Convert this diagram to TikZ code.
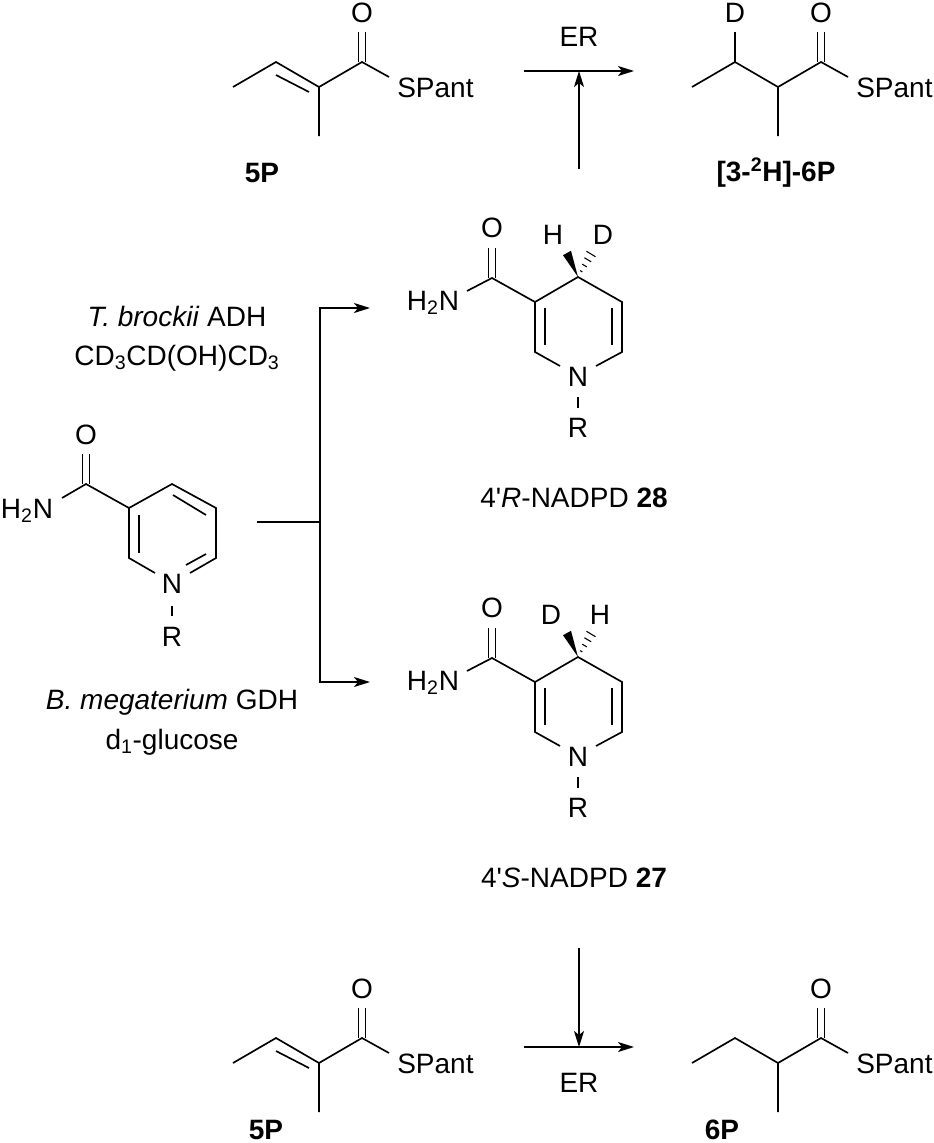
\documentclass[tikz,border=0pt]{standalone}
\usepackage{fontspec}
\setmainfont{Liberation Sans}[Ligatures=TeXOff]
\usetikzlibrary{arrows.meta,calc}

\begin{document}
\begin{tikzpicture}[
    x=0.75pt, y=-0.75pt,
    every node/.style={font=\fontsize{21}{25}\selectfont, inner sep=0pt},
    bond/.style={line width=1.25pt, line join=miter},
    arrow/.style={line width=1.25pt, -{Stealth[length=12pt,width=7.5pt,inset=3pt]}},
    line/.style={line width=1.25pt},
    thioester/.pic={
        \coordinate (co) at (0,0);
        \coordinate (ca) at (-43,25);
        \coordinate (me) at (-43,74);
        \coordinate (s) at (27,15);
        \node (o) at (0,-49) {O};
        \node[anchor=west] (spant) at (35,26) {SPant};
        \draw[bond] (me) -- (ca) -- (co) -- (s);
        \draw[bond] ([xshift=-2.6pt]co) -- ([xshift=-2.6pt]0,-30);
        \draw[bond] ([xshift=2.6pt]co) -- ([xshift=2.6pt]0,-30);
    },
    enoyl/.pic={
        \coordinate (ca) at (-43,25);
        \coordinate (cb) at (-86,0);
        \coordinate (cc) at (-129,25);
        \draw[bond] (cc) -- (cb) -- (ca);
        \draw[bond] (-86,13) -- (-53,30);
    },
    alkyl/.pic={
        \coordinate (ca) at (-43,25);
        \coordinate (cb) at (-86,0);
        \coordinate (cc) at (-129,25);
        \draw[bond] (cc) -- (cb) -- (ca);
    }
]
\useasboundingbox (0,0) rectangle (933,1143);

% TOP REACTION
\pic (a) at (362,62) {thioester};
\pic (a) at (362,62) {enoyl};
\pic (b) at (821,62) {thioester};
\pic (b) at (821,62) {alkyl};
\node (dtop) at (735,13) {D};
\draw[bond] (bcb) -- (735,32);
\node (lab5p) at (262,173) {\textbf{5P}};
\node (lab6d) at (776,173) {\textbf{[3-\textsuperscript{2}H]-6P}};
\node (ertop) at (579,37) {ER};
\coordinate (t1) at (524,71);
\coordinate (t2) at (634,71);
\coordinate (t3) at (579,169);
\coordinate (t4) at (579,71);
\draw[arrow] (t1) -- (t2);
\draw[arrow] (t3) -- (t4);

% REDUCED COFACTORS
\foreach \ring/\dy/\lft/\rgt/\lx/\rx in {r/0/H/D/553/603, s/380/D/H/551/600}{
\begin{scope}[shift={(0,\dy)}, name prefix=\ring]
    \coordinate (c7) at (492,278);
    \coordinate (c3) at (535,302);
    \coordinate (c4) at (578,277);
    \coordinate (c5) at (622,302);
    \coordinate (c6) at (622,352);
    \coordinate (c2) at (535,352);
    \coordinate (wedge) at (567,253);
    \coordinate (hash) at (591,254);
    \node (o) at (492,228) {O};
    \node (nh) at (433,303) {H\textsubscript{2}N};
    \node (n) at (578,377) {N};
    \node (rr) at (578,428) {R};
    \node (hl) at (\lx,235) {\lft};
    \node (hr) at (\rx,235) {\rgt};
    \draw[bond] (467,291) -- (c7) -- (c3) -- (c4) -- (c5) -- (c6) -- (596,366);
    \draw[bond] (c3) -- (c2) -- (560,366);
    \draw[bond] (545,308) -- (545,345);
    \draw[bond] (612,308) -- (612,345);
    \draw[bond] ([xshift=-2.6pt]c7) -- ([xshift=-2.6pt]492,248);
    \draw[bond] ([xshift=2.6pt]c7) -- ([xshift=2.6pt]492,248);
    \draw[bond] (578,397) -- (578,408);
    \fill (c4) -- ($(wedge)+(-4,2.2)$) -- ($(wedge)+(4,-2.2)$) -- cycle;
    \foreach \t in {0.25,0.5,0.75,1.0}
        \draw[line width=0.8pt] ($(c4)!\t!(hash)+(-4.5*\t,-2.7*\t)$) -- ($(c4)!\t!(hash)+(4.5*\t,2.7*\t)$);
\end{scope}
}
\node (lab28) at (574,498) {4'\textit{R}-NADPD \textbf{28}};
\node (lab27) at (574,878) {4'\textit{S}-NADPD \textbf{27}};

% NICOTINAMIDE
\coordinate (p7) at (86,484);
\coordinate (p3) at (129,508);
\coordinate (p4) at (172,484);
\coordinate (p5) at (216,508);
\coordinate (p6) at (216,558);
\coordinate (p2) at (129,558);
\node (po) at (86,435) {O};
\node (pnh) at (27,511) {H\textsubscript{2}N};
\node (pn) at (172,584) {N};
\node (pr) at (172,637) {R};
\draw[bond] (62,498) -- (p7) -- (p3) -- (p4) -- (p5) -- (p6) -- (190,573);
\draw[bond] (p3) -- (p2) -- (155,573);
\draw[bond] (139,515) -- (139,553);
\draw[bond] (173,495) -- (206,515);
\draw[bond] (186,565) -- (206,554);
\draw[bond] ([xshift=-2.6pt]p7) -- ([xshift=-2.6pt]86,454);
\draw[bond] ([xshift=2.6pt]p7) -- ([xshift=2.6pt]86,454);
\draw[bond] (172,606) -- (172,616);

% BRANCH
\coordinate (fork) at (320,522);
\coordinate (forkin) at (257,522);
\coordinate (ftop) at (320,308);
\coordinate (fbot) at (320,682);
\coordinate (ftopend) at (370,308);
\coordinate (fbotend) at (370,682);
\draw[line] (forkin) -- (fork);
\draw[arrow] (fork) -- (ftop) -- (ftopend);
\draw[arrow] (fork) -- (fbot) -- (fbotend);
\node (adh) at (177,316) {\textit{T. brockii} ADH};
\node (ipa) at (177,358) {CD\textsubscript{3}CD(OH)CD\textsubscript{3}};
\node (gdh) at (172,702) {\textit{B. megaterium} GDH};
\node (glc) at (172,742) {d\textsubscript{1}-glucose};

% BOTTOM REACTION
\pic (c) at (362,1038) {thioester};
\pic (c) at (362,1038) {enoyl};
\pic (d) at (821,1038) {thioester};
\pic (d) at (821,1038) {alkyl};
\node (lab5q) at (266,1130) {\textbf{5P}};
\node (lab6p) at (722,1130) {\textbf{6P}};
\node (erbot) at (579,1083) {ER};
\coordinate (u1) at (524,1047);
\coordinate (u2) at (634,1047);
\coordinate (u3) at (579,948);
\coordinate (u4) at (579,1047);
\draw[arrow] (u1) -- (u2);
\draw[arrow] (u3) -- (u4);
\end{tikzpicture}
\end{document}
